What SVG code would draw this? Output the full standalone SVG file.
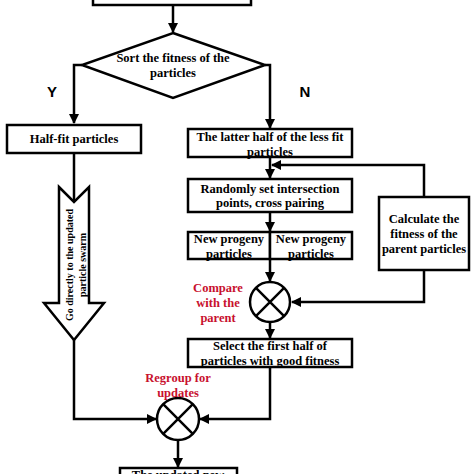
<svg xmlns="http://www.w3.org/2000/svg" width="474" height="474" viewBox="0 0 474 474">
<defs>
<style>
.b{fill:#fff;stroke:#000;stroke-width:2.5}
.l{fill:none;stroke:#000;stroke-width:2.5}
.t{font-family:"Liberation Serif",serif;font-weight:bold;font-size:12.5px;fill:#000;text-anchor:middle}
.v{font-family:"Liberation Serif",serif;font-weight:bold;font-size:10px;fill:#000;text-anchor:middle}
.r{font-family:"Liberation Serif",serif;font-weight:bold;font-size:12.5px;fill:#c8102e;text-anchor:middle}
.s{font-family:"Liberation Sans",sans-serif;font-weight:bold;font-size:15px;fill:#000;text-anchor:middle}
</style>
<marker id="a" markerWidth="10" markerHeight="10" refX="9" refY="5" orient="auto" markerUnits="userSpaceOnUse">
<path d="M0,0 L10,5 L0,10 Z" fill="#000"/>
</marker>
</defs>
<rect width="474" height="474" fill="#fff"/>
<g id="connectors">
<path class="l" d="M173,5 V32" marker-end="url(#a)"/>
<path class="l" d="M82,65 H74 V123" marker-end="url(#a)"/>
<path class="l" d="M265,65 H270 V128" marker-end="url(#a)"/>
<path class="l" d="M74,153 V200"/>
<path class="l" d="M270,157 V178" marker-end="url(#a)"/>
<path class="l" d="M424,197 V165 H272" marker-end="url(#a)"/>
<path class="l" d="M270,212 V231" marker-end="url(#a)"/>
<path class="l" d="M270,259 V281" marker-end="url(#a)"/>
<path class="l" d="M424,270 V302 H292" marker-end="url(#a)"/>
<path class="l" d="M270,322 V338" marker-end="url(#a)"/>
<path class="l" d="M270,367 V419 H200" marker-end="url(#a)"/>
<path class="l" d="M74,340 V419 H156" marker-end="url(#a)"/>
<path class="l" d="M178,440 V467" marker-end="url(#a)"/>
</g>
<g id="start"><rect class="b" x="93" y="-20" width="158" height="25"/></g>
<g id="sort">
<path class="b" d="M173,33 L265,65 L173,98 L82,65 Z"/>
<text class="t" x="173" y="62">Sort the fitness of the</text>
<text class="t" x="173" y="77">particles</text>
</g>
<g id="labels">
<text class="s" x="52" y="97">Y</text>
<text class="s" x="305" y="97">N</text>
</g>
<g id="halffit">
<rect class="b" x="7" y="125" width="134" height="28"/>
<text class="t" x="74" y="143">Half-fit particles</text>
</g>
<g id="latter">
<rect class="b" x="188" y="129" width="164" height="28"/>
<text class="t" x="270" y="141">The latter half of the less fit</text>
<text class="t" x="270" y="156">particles</text>
</g>
<g id="bigarrow">
<path class="b" d="M59,187 L74,202 L89,187 V303 H104 L74,340 L44,303 H59 Z"/>
<text class="v" transform="translate(73,265) rotate(-90)">Go directly to the updated</text>
<text class="v" transform="translate(86,265) rotate(-90)">particle swarm</text>
</g>
<g id="random">
<rect class="b" x="188" y="179" width="164" height="33"/>
<text class="t" x="270" y="193">Randomly set intersection</text>
<text class="t" x="270" y="207">points, cross pairing</text>
</g>
<g id="calc">
<rect class="b" x="379" y="197" width="90" height="73"/>
<text class="t" x="424" y="223">Calculate the</text>
<text class="t" x="424" y="238">fitness of the</text>
<text class="t" x="424" y="253">parent particles</text>
</g>
<g id="prog1">
<rect class="b" x="188" y="232" width="82" height="27"/>
<text class="t" x="229" y="243">New progeny</text>
<text class="t" x="229" y="258">particles</text>
</g>
<g id="prog2">
<rect class="b" x="270" y="232" width="82" height="27"/>
<text class="t" x="311" y="243">New progeny</text>
<text class="t" x="311" y="258">particles</text>
</g>
<g id="compare">
<circle class="b" cx="270" cy="302" r="20"/>
<path class="l" d="M255.9,287.9 L284.1,316.1 M284.1,287.9 L255.9,316.1"/>
<text class="r" x="218" y="292">Compare</text>
<text class="r" x="218" y="307">with the</text>
<text class="r" x="218" y="322">parent</text>
</g>
<g id="select">
<rect class="b" x="188" y="339" width="164" height="28"/>
<text class="t" x="270" y="350">Select the first half of</text>
<text class="t" x="270" y="365">particles with good fitness</text>
</g>
<g id="regroup">
<circle class="b" cx="178" cy="419" r="21"/>
<path class="l" d="M163.2,404.2 L192.8,433.8 M192.8,404.2 L163.2,433.8"/>
<text class="r" x="178" y="382">Regroup for</text>
<text class="r" x="178" y="397">updates</text>
</g>
<g id="final">
<rect class="b" x="120" y="468" width="117" height="20"/>
<text class="t" x="178" y="479">The updated new</text>
</g>
</svg>
